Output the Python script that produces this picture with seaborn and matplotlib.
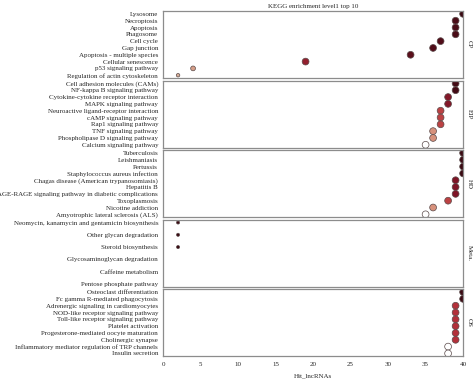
import numpy as np
import pandas as pd
import matplotlib
matplotlib.use('Agg')
import matplotlib.pyplot as plt
from matplotlib.colors import LinearSegmentedColormap
import seaborn as sns

# Terms, hits, colour score and dot size for each KEGG level1 group
cp_terms = ['Lysosome', 'Necroptosis', 'Apoptosis', 'Phagosome', 'Cell cycle', 'Gap junction',
            'Apoptosis - multiple species', 'Cellular senescence', 'p53 signaling pathway',
            'Regulation of actin cytoskeleton']
cp_hits = [40, 39, 39, 39, 37, 36, 33, 19, 4, 2]
cp_score = [1.0, 0.95, 0.95, 0.95, 0.93, 0.93, 0.9, 0.72, 0.25, 0.2]
cp_size = [1.0, 1.0, 1.0, 1.0, 1.0, 1.0, 1.0, 1.0, 0.55, 0.35]

eip_terms = ['Cell adhesion molecules (CAMs)', 'NF-kappa B signaling pathway',
             'Cytokine-cytokine receptor interaction', 'MAPK signaling pathway',
             'Neuroactive ligand-receptor interaction', 'cAMP signaling pathway',
             'Rap1 signaling pathway', 'TNF signaling pathway', 'Phospholipase D signaling pathway',
             'Calcium signaling pathway']
eip_hits = [39, 39, 38, 38, 37, 37, 37, 36, 36, 35]
eip_score = [0.97, 0.97, 0.78, 0.78, 0.55, 0.55, 0.55, 0.3, 0.3, 0.0]
eip_size = [1.0] * 10

hd_terms = ['Tuberculosis', 'Leishmaniasis', 'Pertussis', 'Staphylococcus aureus infection',
            'Chagas disease (American trypanosomiasis)', 'Hepatitis B',
            'AGE-RAGE signaling pathway in diabetic complications', 'Toxoplasmosis',
            'Nicotine addiction', 'Amyotrophic lateral sclerosis (ALS)']
hd_hits = [40, 40, 40, 40, 39, 39, 39, 38, 36, 35]
hd_score = [1.0, 1.0, 1.0, 1.0, 0.8, 0.8, 0.8, 0.55, 0.3, 0.0]
hd_size = [1.0] * 10

meta_terms = ['Neomycin, kanamycin and gentamicin biosynthesis', 'Other glycan degradation',
              'Steroid biosynthesis', 'Glycosaminoglycan degradation', 'Caffeine metabolism',
              'Pentose phosphate pathway']
meta_hits = [2, 2, 2, np.nan, np.nan, np.nan]
meta_score = [1.0, 1.0, 1.0, np.nan, np.nan, np.nan]
meta_size = [0.3, 0.3, 0.3, np.nan, np.nan, np.nan]

os_terms = ['Osteoclast differentiation', 'Fc gamma R-mediated phagocytosis',
            'Adrenergic signaling in cardiomyocytes', 'NOD-like receptor signaling pathway',
            'Toll-like receptor signaling pathway', 'Platelet activation',
            'Progesterone-mediated oocyte maturation', 'Cholinergic synapse',
            'Inflammatory mediator regulation of TRP channels', 'Insulin secretion']
os_hits = [40, 40, 39, 39, 39, 39, 39, 39, 38, 38]
os_score = [1.0, 1.0, 0.6, 0.6, 0.6, 0.6, 0.6, 0.6, 0.0, 0.0]
os_size = [1.0] * 10

groups = ['CP', 'EIP', 'HD', 'Meta.', 'OS']
panels = [
    (cp_terms, cp_hits, cp_score, cp_size),
    (eip_terms, eip_hits, eip_score, eip_size),
    (hd_terms, hd_hits, hd_score, hd_size),
    (meta_terms, meta_hits, meta_score, meta_size),
    (os_terms, os_hits, os_score, os_size),
]

sns.set_style('white')
plt.rcParams['font.family'] = ['Liberation Serif', 'DejaVu Serif']

cmap = LinearSegmentedColormap.from_list(
    'kegg', ['#ffffff', '#d6ae98', '#d8735e', '#b3303a', '#7e1527', '#3a0912'])

fig = plt.figure(figsize=(4.74, 3.83), dpi=100)
gs = fig.add_gridspec(5, 1, left=0.344, right=0.977, top=0.971, bottom=0.07, hspace=0.04)

fs = 5.0
for i, (group, (terms, hits, score, size)) in enumerate(zip(groups, panels)):
    ax = fig.add_subplot(gs[i])
    df = pd.DataFrame({'term': terms, 'hits': hits, 'score': score, 'size': size})
    df['pos'] = np.arange(len(terms))
    d = df.dropna()
    sns.scatterplot(data=d, x='hits', y='pos', hue='score', palette=cmap, hue_norm=(0, 1),
                    size='size', sizes=(5, 24), size_norm=(0.3, 1.0),
                    edgecolor='#5a4a4a', linewidth=0.5, legend=False, ax=ax, clip_on=True)
    n = len(terms)
    pad = 0.045 * (n - 1)
    ax.set_ylim(n - 1 + pad, -pad)
    ax.set_yticks(df['pos'])
    ax.set_yticklabels(terms, fontsize=fs)
    ax.set_xlim(0, 40)
    ax.set_xticks(range(0, 41, 5))
    ax.set_ylabel('')
    ax.set_xlabel('')
    for sp in ax.spines.values():
        sp.set_color('#8c8c8c')
        sp.set_linewidth(0.9)
    ax.tick_params(axis='y', length=2, width=0.5, color='#555555', pad=1.5)
    if i < len(groups) - 1:
        ax.tick_params(axis='x', bottom=False, labelbottom=False)
    else:
        ax.tick_params(axis='x', length=2, width=0.5, color='#555555', labelsize=fs, pad=2)
        ax.set_xlabel('Hit_lncRNAs', fontsize=fs, labelpad=5)
    ax.text(1.012, 0.5, group, transform=ax.transAxes, rotation=-90,
            va='center', ha='left', fontsize=fs)
    if i == 0:
        ax.set_title('KEGG enrichment level1 top 10', fontsize=fs, pad=2)

fig.savefig('out.png', dpi=100)
